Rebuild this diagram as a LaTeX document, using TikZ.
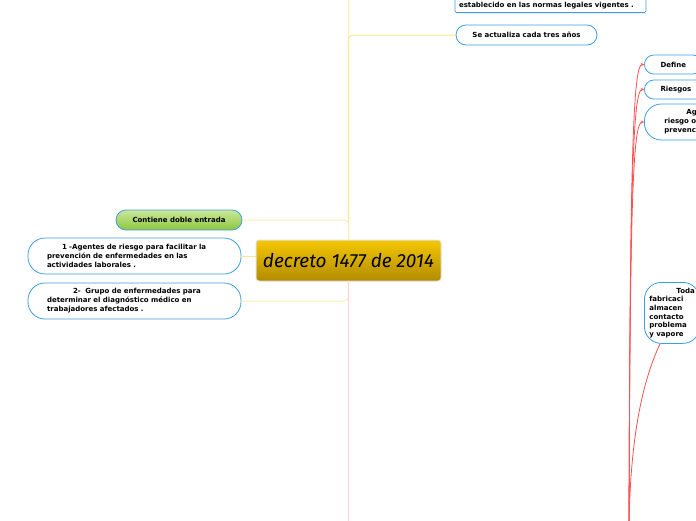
\documentclass[tikz,border=0pt]{standalone}
\usepackage{fontspec}
\setmainfont{DejaVu Sans}
\newfontfamily\titlefont{Fira Sans}
\usetikzlibrary{arrows.meta,calc}
\definecolor{nodeblue}{HTML}{3D9FE3}
\definecolor{goldtop}{HTML}{F4C703}
\definecolor{goldbot}{HTML}{B28B00}
\definecolor{greentop}{HTML}{CBE79A}
\definecolor{greenbot}{HTML}{8CC63F}
\definecolor{linkyellow}{HTML}{FFE58C}
\definecolor{linkpale}{HTML}{FFEDB8}
\definecolor{linkpink}{HTML}{FFD2D2}
\definecolor{linkred}{HTML}{FF4F4F}
\begin{document}
\begin{tikzpicture}[x=1pt,y=1pt,font=\bfseries\fontsize{7}{9}\selectfont,
  leaf/.style={draw=nodeblue, line width=0.8pt, fill=white, rounded corners=#1},
  leaf/.default=10pt,
  branch/.style={line width=1pt, rounded corners=4pt}]
\useasboundingbox (0,0) rectangle (696,-520);
\clip (0,0) rectangle (696,-520);
% central topic
\node[draw=gray!25, line width=1pt, rounded corners=3pt, top color=goldtop, bottom color=goldbot,
  minimum width=185pt, minimum height=41pt, text=black,
  font=\titlefont\itshape\fontsize{19}{21}\selectfont] (decreto) at (348.5,-260.5) {decreto 1477 de 2014};
% left side
\node[draw=nodeblue, line width=0.8pt, rounded corners=10pt, top color=greentop, bottom color=greenbot,
  minimum width=126pt, minimum height=20pt] (doble) at (179,-220) {Contiene doble entrada};
\node[leaf=17pt, minimum height=36pt, text width=175pt, inner xsep=19pt, align=left] (agentes) at (134.5,-256)
  {\hspace*{15pt}1 -Agentes de riesgo para facilitar la\\prevención de enfermedades en las\\actividades laborales .};
\node[leaf=17pt, minimum height=36pt, text width=175pt, inner xsep=19pt, align=left] (grupo) at (134.5,-301)
  {\hspace*{26pt}2-\ \ Grupo de enfermedades para\\determinar el diagnóstico médico en\\trabajadores afectados .};
% top
\node[leaf, minimum width=141pt, minimum height=20pt] (actualiza) at (526.5,-35) {Se actualiza cada tres años};
\node[leaf=1.5pt, text width=183pt, inner xsep=4pt, inner ysep=4pt, align=left, anchor=south] (normas) at (550.5,-13)
  {\mbox{}\\[24pt]establecido en las normas legales vigentes .};
% right side
\node[leaf=9.5pt, minimum width=58pt, minimum height=19pt, anchor=west] (define) at (644,-64.5) {Define};
\node[leaf=9.5pt, minimum width=63pt, minimum height=19pt, anchor=west] (riesgos) at (644,-89.5) {Riesgos};
\node[leaf=17pt, minimum height=36pt, inner xsep=20pt, align=left, anchor=west] (agente) at (644,-122)
  {\hspace*{22pt}Ag\\riesgo o\\prevenci};
\node[leaf=17pt, minimum height=61pt, inner xsep=5pt, align=left, anchor=north west,
  font=\bfseries\fontsize{7}{8.7}\selectfont] (toda) at (644,-282)
  {\hspace*{27pt}Toda\\fabricaci\\almacen\\contacto\\problema\\y vapore};
% connectors
\draw[branch, linkpale] (decreto.north) |- (normas.west);
\draw[branch, linkyellow] (decreto.north) |- (actualiza.west);
\draw[branch, linkpale] (decreto.north) |- (doble.east);
\draw[branch, linkyellow] (agentes.east) -- (agentes.east -| decreto.west);
\draw[branch, linkpale] (decreto.south) |- (grupo.east);
\coordinate (bottomend) at (348.5,-530);
\draw[branch, linkpink] (decreto.south) -- (bottomend);
\coordinate (redroot) at (629,-530);
\draw[linkred, line width=0.8pt, -{Stealth[length=3pt,width=3pt]}] (redroot) .. controls (630,-160) and (633,-64.5) .. (define.west);
\draw[linkred, line width=0.8pt, -{Stealth[length=3pt,width=3pt]}] (redroot) .. controls (630,-180) and (633,-89.5) .. (riesgos.west);
\draw[linkred, line width=0.8pt, -{Stealth[length=3pt,width=3pt]}] (redroot) .. controls (630,-200) and (633,-122) .. (agente.west);
\draw[linkred, line width=0.8pt] (redroot) .. controls (630,-420) and (648,-370) .. ($(toda.south west)+(16,0)$);
\end{tikzpicture}
\end{document}
